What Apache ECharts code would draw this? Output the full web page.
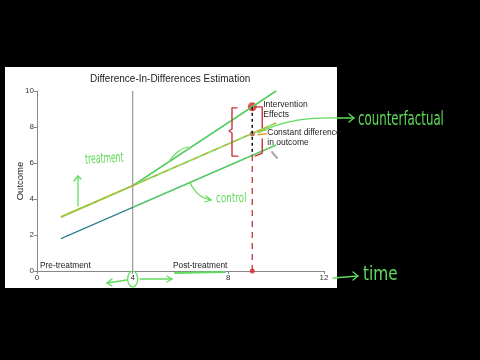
<!DOCTYPE html>
<html><head><meta charset="utf-8">
<script src="https://cdn.jsdelivr.net/npm/echarts@6/dist/echarts.min.js"></script>
<style>
html,body{margin:0;padding:0;background:#000;width:480px;height:360px;overflow:hidden}
#panel{position:absolute;left:5px;top:67px;width:332px;height:221px;background:#fff}
#c{position:absolute;left:0;top:0;width:480px;height:360px}
</style></head><body>
<div id="panel"></div><div id="c"></div>
<script>
// ---- data ----
const xTicks = [0, 4, 8, 12];
const yTicks = [0, 2, 4, 6, 8, 10];
const interventionTime = 4;
const preX = [1, 4];
const treatmentPre = [3.0, 4.74];
const postX = [4, 10];
const treatmentPost = [4.74, 10.0];
const counterfactual = [4.74, 8.22];
const controlX = [1, 10];
const control = [1.8, 7.0];
const controlHighlightX = [4, 10];
const controlHighlight = [3.53, 7.0];
const effectX = 9;
const effectTreated = 9.12;
const effectCounterfactual = 7.62;
const effectControl = 6.44;
const titleText = 'Difference-In-Differences Estimation';
const yName = 'Outcome';
const preLabel = 'Pre-treatment';
const postLabel = 'Post-treatment';
const effectLabel = 'Intervention\nEffects';
const constLabel = 'Constant difference\nin outcome';
const handNotes = ['treatment', 'control', 'counterfactual', 'time'];

const pair = (xs, ys) => xs.map((x, i) => [x, ys[i]]);
const FONT = 'Liberation Sans, Arial, sans-serif';
const GREEN = '#5fdc5a';
const TEAL = '#2a7d8c';
const TEAL2 = '#2a8a72';
const RED = '#c8323a';

const chart = echarts.init(document.getElementById('c'), null, {renderer: 'canvas'});
const lineS = (name, data, color, width, type, opacity) => ({
  type: 'line', name, data, symbol: 'none', silent: true, animation: false,
  lineStyle: {color, width, type: type || 'solid', opacity: opacity == null ? 1 : opacity}
});
const option = {
  backgroundColor: 'transparent',
  animation: false,
  title: {text: titleText, left: 85, top: 69,
    textStyle: {fontFamily: FONT, fontSize: 10, fontWeight: 'normal', color: '#222'}},
  grid: {left: 37, right: 156, top: 91, bottom: 89, containLabel: false},
  xAxis: {type: 'value', min: 0, max: 12, interval: 4,
    axisLine: {lineStyle: {color: '#888', width: 1}},
    axisTick: {length: 3, lineStyle: {color: '#888'}},
    axisLabel: {fontFamily: FONT, fontSize: 8, color: '#333', margin: 3,
      formatter: v => xTicks.includes(v) ? String(v) : ''},
    splitLine: {show: false}},
  yAxis: {type: 'value', min: 0, max: 10, interval: 2, name: yName, nameLocation: 'middle', nameGap: 12,
    nameMoveOverlap: false,
    nameTextStyle: {fontFamily: FONT, fontSize: 9.5, color: '#222'},
    axisLine: {show: true, lineStyle: {color: '#888', width: 1}},
    axisTick: {show: true, length: 3, lineStyle: {color: '#888'}},
    axisLabel: {fontFamily: FONT, fontSize: 8, color: '#333', margin: 3,
      formatter: v => yTicks.includes(v) ? String(v) : ''},
    splitLine: {show: false}},
  series: [
    lineS('intervention', [[interventionTime, 0], [interventionTime, 10]], '#999', 1.2),
    lineS('control', pair(controlX, control), TEAL, 1.2),
    lineS('controlHi', pair(controlHighlightX, controlHighlight), GREEN, 1.4, 'solid', 0.85),
    lineS('treatPre', pair(preX, treatmentPre), TEAL2, 1.2),
    lineS('treatPreHi', pair(preX, treatmentPre), '#9fd43a', 2, 'solid', 0.9),
    lineS('treatPreDash', pair(preX, treatmentPre), '#d9903a', 1, [4, 5], 0.7),
    lineS('treatPost', pair(postX, treatmentPost), TEAL2, 1.2),
    lineS('treatPostHi', pair(postX, treatmentPost), GREEN, 1.5, 'solid', 0.85),
    lineS('cfHi', pair(postX, counterfactual), '#7fd84a', 1.8, 'solid', 0.9),
    lineS('cf', pair(postX, counterfactual), '#d9903a', 1.1, [5, 6], 0.7),
    lineS('effect', [[effectX, effectTreated], [effectX, effectControl]], '#111', 1.5, [3, 3]),
    lineS('redDash', [[effectX, effectControl], [effectX, 0]], RED, 1.3, [6, 5]),
    {type: 'scatter', silent: true, animation: false, data: [[effectX, effectTreated]], symbolSize: 9,
      itemStyle: {color: '#e0262a'}},
    {type: 'scatter', silent: true, animation: false, data: [[effectX, effectCounterfactual], [effectX, 0]], symbolSize: 5,
      itemStyle: {color: '#d8262a'}}
  ]
};
chart.setOption(option);

const P = (x, y) => chart.convertToPixel({gridIndex: 0}, [x, y]);
const txt = (text, x, y, size, color, lh) => ({
  type: 'text', silent: true, z: 50,
  style: {text, x, y, font: size + 'px ' + FONT, fill: color,
    textAlign: 'left', align: 'left', textVerticalAlign: 'top', verticalAlign: 'top', lineHeight: lh || size + 1}
});
const pl = (points, color, w) => ({type: 'polyline', silent: true, z: 50,
  shape: {points}, style: {stroke: color, lineWidth: w, fill: null, lineCap: 'round', lineJoin: 'round'}});
const bz = (x1, y1, cx1, cy1, cx2, cy2, x2, y2, color, w) => ({type: 'bezierCurve', silent: true, z: 50,
  shape: {x1, y1, x2, y2, cpx1: cx1, cpy1: cy1, cpx2: cx2, cpy2: cy2},
  style: {stroke: color, lineWidth: w, fill: null, lineCap: 'round'}});

const o = P(0, 0);
const e1 = P(effectX, effectTreated);
const e2 = P(effectX, effectCounterfactual);
const e3 = P(effectX, effectControl);
const hand = (text, x, y, size, sx, rot) => ({type: 'text', silent: true, z: 60, x, y, rotation: rot || 0,
  scaleX: sx, scaleY: 1,
  style: {text, x: 0, y: 0, font: size + 'px "DejaVu Sans", sans-serif', fill: GREEN,
    textVerticalAlign: 'middle', verticalAlign: 'middle'}});

const graphic = [
  txt(preLabel, o[0] + 3, o[1] - 10, 8.3, '#222'),
  txt(postLabel, 173, o[1] - 10, 8.3, '#222'),
  txt(effectLabel, e1[0] + 11, e1[1] - 7, 8.5, '#222', 10),
  txt(constLabel, e1[0] + 15, e2[1] - 6, 8.5, '#222', 10),
  // red brackets
  pl([[237, e1[1] + 1], [232, e1[1] + 1], [232, (e1[1] + e3[1]) / 2 - 2], [229, (e1[1] + e3[1]) / 2], [232, (e1[1] + e3[1]) / 2 + 2], [232, e3[1] + 1], [238, e3[1] + 1]], RED, 1.4),
  pl([[e1[0] + 3, e1[1]], [e1[0] + 10, e1[1]], [e1[0] + 10, e2[1] - 6]], RED, 1.4),
  pl([[e1[0] + 10, e2[1] + 5], [e1[0] + 10, e3[1] - 2], [e1[0] + 3, e3[1] + 1]], RED, 1.4),
  pl([[e1[0] + 6, e2[1] - 3], [e1[0] + 14, e2[1] - 4]], '#e0a030', 1.5),
  pl([[e1[0] + 6, e2[1] + 1], [e1[0] + 14, e2[1]]], '#e0a030', 1.5),
  pl([[272, 152], [277, 158]], '#aaa', 2),
  // green hand annotations
  hand(handNotes[0], 85, 160, 14, 0.55, 0.05),
  pl([[78, 206], [78, 176], [74, 181]], GREEN, 1.3),
  pl([[78, 176], [81, 179]], GREEN, 1.3),
  bz(190, 183, 195, 192, 200, 198, 211, 200, GREEN, 1.3),
  pl([[206, 196], [211, 200], [205, 202]], GREEN, 1.3),
  hand(handNotes[1], 216, 199, 13, 0.68, 0.02),
  bz(e2[0] + 6, e2[1] - 1, 285, 120, 310, 117, 340, 118, GREEN, 1.3),
  pl([[340, 118], [354, 118]], GREEN, 1.3),
  pl([[349, 114], [354, 118], [349, 122]], GREEN, 1.3),
  hand(handNotes[2], 358, 120, 20, 0.59, 0),
  pl([[333, 278], [358, 276]], GREEN, 1.3),
  pl([[353, 272], [358, 276], [353, 280]], GREEN, 1.3),
  hand(handNotes[3], 363, 275, 19, 0.81, 0),
  {type: 'ellipse', silent: true, z: 50, shape: {cx: P(4, 0)[0], cy: o[1] + 8, rx: 5, ry: 8},
    style: {stroke: GREEN, lineWidth: 1.2, fill: null}},
  pl([[127, 280], [107, 283]], GREEN, 1.3),
  pl([[112, 279], [107, 283], [112, 286]], GREEN, 1.3),
  pl([[140, 279], [172, 279]], GREEN, 1.3),
  pl([[167, 276], [172, 279], [167, 282]], GREEN, 1.3),
  pl([[175, o[1] + 2], [225, o[1] + 1]], GREEN, 2),
  bz(170, 160, 176, 152, 182, 148, 188, 147, GREEN, 1.2)
];
chart.setOption({graphic});
</script></body></html>
